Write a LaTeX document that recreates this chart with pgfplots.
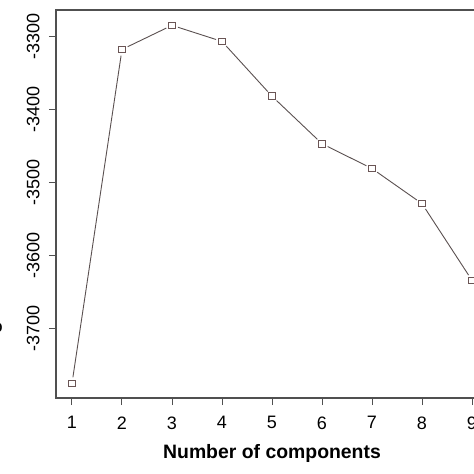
\documentclass[border=0pt]{standalone}
\usepackage{pgfplots}
\pgfplotsset{compat=1.18}
\usepackage{fontspec}
\setmainfont{Liberation Sans}
\definecolor{ln}{HTML}{5A5050}
\definecolor{mk}{HTML}{6A5555}
\definecolor{bx}{HTML}{505050}
\begin{document}
\begin{tikzpicture}[x=1pt,y=1pt]
\begin{axis}[
  scale only axis,
  width=432pt, height=388pt,
  at={(0,0)}, anchor=south west,
  xmin=0.68, xmax=9.32,
  ymin=-3795, ymax=-3264,
  axis line style={bx, line width=1.3pt},
  xtick={1,2,3,4,5,6,7,8,9},
  ytick={-3700,-3600,-3500,-3400,-3300},
  tick align=outside,
  tick style={bx, line width=1pt},
  major tick length=7pt,
  xtick pos=bottom, ytick pos=left,
  /pgf/number format/assume math mode=true,
  /pgf/number format/1000 sep={},
  /pgf/number format/.cd, fixed, /pgfplots/.cd,
  ticklabel style={font=\fontsize{18}{18}\selectfont, text=black},
  yticklabel style={rotate=90, anchor=south, xshift=0pt},
  xticklabel style={yshift=-8pt},
  yticklabel shift=6pt,
  xlabel={\textbf{Number of components}},
  xlabel style={font=\fontsize{19.4}{19.4}\selectfont, at={(axis description cs:0.5,0)}, anchor=north, inner sep=0pt, yshift=-46pt},
  ylabel={\textbf{Log-likelihood of the fitted model}},
  ylabel style={font=\fontsize{19.4}{19.4}\selectfont, at={(axis description cs:-0.1245,0.5)}, anchor=south, inner sep=0pt},
  clip=false,
]
\addplot[ln, line width=0.9pt] coordinates {
(1,-3775) (2,-3318) (3,-3285) (4,-3307) (5,-3382) (6,-3447) (7,-3481) (8,-3529) (9,-3634)};
\addplot[only marks, mark=*, mark size=6pt, white, mark options={fill=white, draw=white}] coordinates {
(1,-3775) (2,-3318) (3,-3285) (4,-3307) (5,-3382) (6,-3447) (7,-3481) (8,-3529) (9,-3634)};
\addplot[only marks, mark=square, mark size=3.3pt, mark options={mk, line width=1pt}] coordinates {
(1,-3775) (2,-3318) (3,-3285) (4,-3307) (5,-3382) (6,-3447) (7,-3481) (8,-3529) (9,-3634)};
\end{axis}
\pgfresetboundingbox
\useasboundingbox (-56pt,-76pt) rectangle (418pt,398pt);
\end{tikzpicture}
\end{document}
